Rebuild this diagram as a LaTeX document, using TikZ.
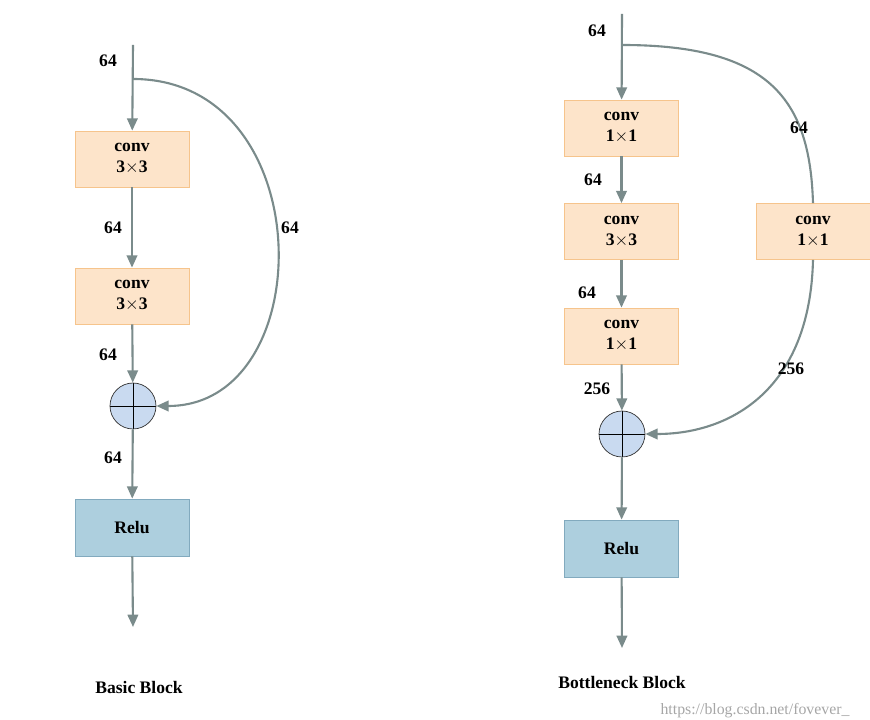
\documentclass[tikz,border=0pt]{standalone}
\usepackage{fontspec}
\setmainfont{Liberation Serif}
\usetikzlibrary{positioning,arrows.meta}
\definecolor{linec}{RGB}{122,139,139}
\definecolor{convf}{RGB}{253,228,202}
\definecolor{convd}{RGB}{246,196,140}
\definecolor{reluf}{RGB}{173,207,222}
\definecolor{relud}{RGB}{130,170,190}
\definecolor{sumf}{RGB}{201,218,240}
\tikzset{
	conv/.style={draw=convd, fill=convf, minimum width=2.28cm, minimum height=1.12cm, align=center, font=\bfseries, inner sep=0pt},
	relu/.style={draw=relud, fill=reluf, minimum width=2.28cm, minimum height=1.14cm, font=\bfseries},
	sum/.style={circle, draw=black!80, fill=sumf, minimum size=0.92cm, inner sep=0pt,
		path picture={\draw[black] (path picture bounding box.north) -- (path picture bounding box.south)
		(path picture bounding box.west) -- (path picture bounding box.east);}},
	arr/.style={draw=linec, line width=1.2pt, -{Triangle[length=7pt,width=6pt]}},
	lbl/.style={font=\bfseries}
}
\begin{document}
\begin{tikzpicture}
	\useasboundingbox (0,0) rectangle (17.4,14.4);

	% basic block
	\coordinate (inA) at (2.66,13.5);
	\coordinate (tapA) at (2.66,12.82);
	\node[conv] (c1) at (2.64,11.22) {conv\\3$\times$3};
	\node[conv] (c2) at (2.64,8.48) {conv\\3$\times$3};
	\node[sum] (sA) at (2.66,6.28) {};
	\node[relu] (rA) at (2.64,3.85) {Relu};
	\coordinate (outA) at (2.66,1.86);
	\draw[arr] (inA) -- (c1);
	\draw[arr] (c1) -- (c2);
	\draw[arr] (c2) -- (sA);
	\draw[arr] (sA) -- (rA);
	\draw[arr] (rA) -- (outA);
	\draw[arr] (tapA) .. controls (6.42,12.82) and (6.42,6.28) .. (sA.east);
	\node[lbl] at (2.16,13.18) {64};
	\node[lbl] at (2.26,9.84) {64};
	\node[lbl] at (2.16,7.3) {64};
	\node[lbl] at (2.26,5.24) {64};
	\node[lbl] at (5.8,9.84) {64};
	\node[lbl] at (2.78,0.66) {Basic Block};

	% bottleneck block
	\coordinate (inB) at (12.44,14.12);
	\coordinate (tapB) at (12.44,13.5);
	\node[conv] (b1) at (12.43,11.84) {conv\\1$\times$1};
	\node[conv] (b2) at (12.43,9.77) {conv\\3$\times$3};
	\node[conv] (b3) at (12.43,7.68) {conv\\1$\times$1};
	\node[conv] (side) at (16.26,9.77) {conv\\1$\times$1};
	\node[sum] (sB) at (12.44,5.72) {};
	\node[relu] (rB) at (12.43,3.43) {Relu};
	\coordinate (outB) at (12.44,1.44);
	\draw[arr] (inB) -- (b1);
	\draw[arr] (b1) -- (b2);
	\draw[arr] (b2) -- (b3);
	\draw[arr] (b3) -- (sB);
	\draw[arr] (sB) -- (rB);
	\draw[arr] (rB) -- (outB);
	\draw[draw=linec, line width=1.2pt] (tapB) .. controls (15.4,13.5) and (16.2,12.4) .. (side.north);
	\draw[arr] (side.south) .. controls (16.2,6.6) and (14.6,5.72) .. (sB.east);
	\node[lbl] at (11.94,13.78) {64};
	\node[lbl] at (15.98,11.84) {64};
	\node[lbl] at (11.86,10.8) {64};
	\node[lbl] at (11.74,8.54) {64};
	\node[lbl] at (11.94,6.62) {256};
	\node[lbl] at (15.82,7.02) {256};
	\node[lbl] at (12.44,0.76) {Bottleneck Block};
	\node[text=black!35, font=\small] at (15.1,0.18) {https://blog.csdn.net/fovever\_};
\end{tikzpicture}
\end{document}
